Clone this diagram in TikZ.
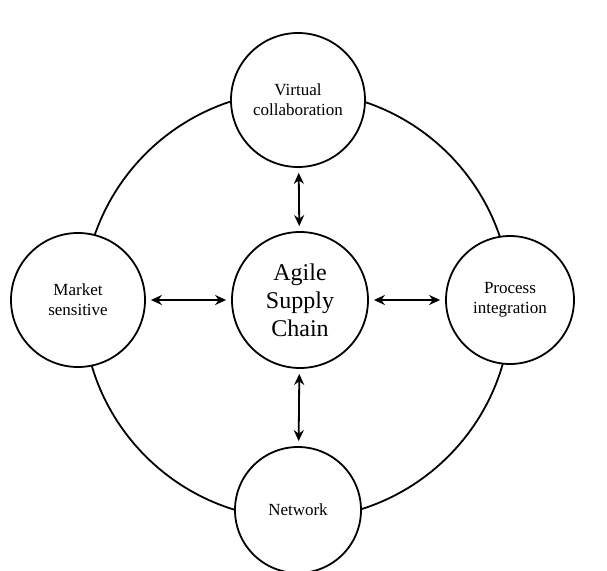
\documentclass[tikz,border=0pt]{standalone}
\usepackage{fontspec}
\setmainfont{Liberation Serif}
\usetikzlibrary{arrows.meta}
\begin{document}
\begin{tikzpicture}[x=1pt,y=-1pt,
  c/.style={circle,draw,line width=1.8pt,fill=white,align=center,font=\fontsize{17}{20}\selectfont,inner sep=0pt},
  a/.style={{Stealth[length=11pt,width=10pt]}-{Stealth[length=11pt,width=10pt]},line width=1.8pt,shorten <=5pt,shorten >=5pt}]
\useasboundingbox (0,0) rectangle (607,570);
\draw[line width=1.8pt] (297,305) circle (214);
\node[c,minimum size=134pt] (t) at (298,100) {Virtual\\collaboration};
\node[c,minimum size=134pt] (l) at (78,300) {Market\\sensitive};
\node[c,minimum size=128pt] (r) at (510,300) {Process\\integration};
\node[c,minimum size=126pt] (b) at (298,510) {Network};
\node[c,minimum size=136pt,font=\fontsize{24}{28}\selectfont] (m) at (300,300) {Agile\\Supply\\Chain};
\draw[a] (m) -- (t);
\draw[a] (m) -- (l);
\draw[a] (m) -- (r);
\draw[a] (m) -- (b);
\end{tikzpicture}
\end{document}
